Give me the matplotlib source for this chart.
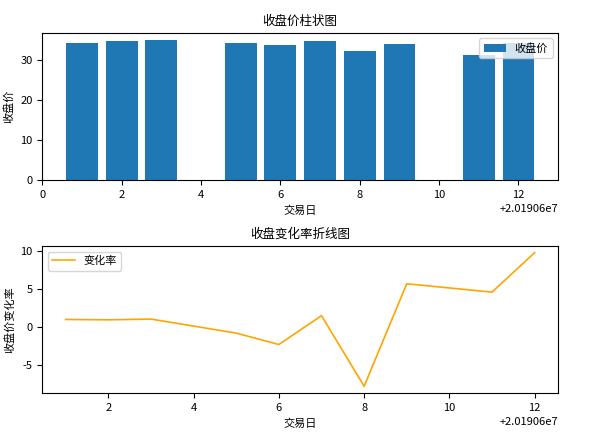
import matplotlib
matplotlib.use("Agg")
import matplotlib.pyplot as plt

plt.rcParams["font.family"] = ["Noto Sans CJK SC", "DejaVu Sans"]
plt.rcParams["axes.unicode_minus"] = False

dates = [20190601, 20190602, 20190603, 20190605, 20190606, 20190607,
         20190608, 20190609, 20190611, 20190612]
close = [34.3, 34.6, 35.0, 34.3, 33.6, 34.6, 32.1, 33.9, 31.2, 34.3]
change = [1.0, 0.95, 1.05, -0.8, -2.3, 1.5, -7.8, 5.7, 4.6, 9.8]

fig, (ax1, ax2) = plt.subplots(2, 1, figsize=(6.04, 4.44), dpi=100)
fig.subplots_adjust(left=0.07, right=0.924, top=0.926, bottom=0.115, hspace=0.45)

ax1.bar(dates, close, width=0.8, color="#1f77b4", label="收盘价")
ax1.set_xlim(20190600, 20190613)
ax1.set_title("收盘价柱状图", fontsize=9)
ax1.set_xlabel("交易日", fontsize=8)
ax1.set_ylabel("收盘价", fontsize=8)
ax1.legend(loc="upper right", fontsize=8)

ax2.plot(dates, change, color="orange", lw=1.2, label="变化率")
ax2.set_title("收盘变化率折线图", fontsize=9)
ax2.set_xlabel("交易日", fontsize=8)
ax2.set_ylabel("收盘价变化率", fontsize=8)
ax2.legend(loc="upper left", fontsize=8)

for ax in (ax1, ax2):
    ax.tick_params(labelsize=8)
    ax.xaxis.get_offset_text().set_fontsize(8)

fig.savefig("out.png", dpi=100)
